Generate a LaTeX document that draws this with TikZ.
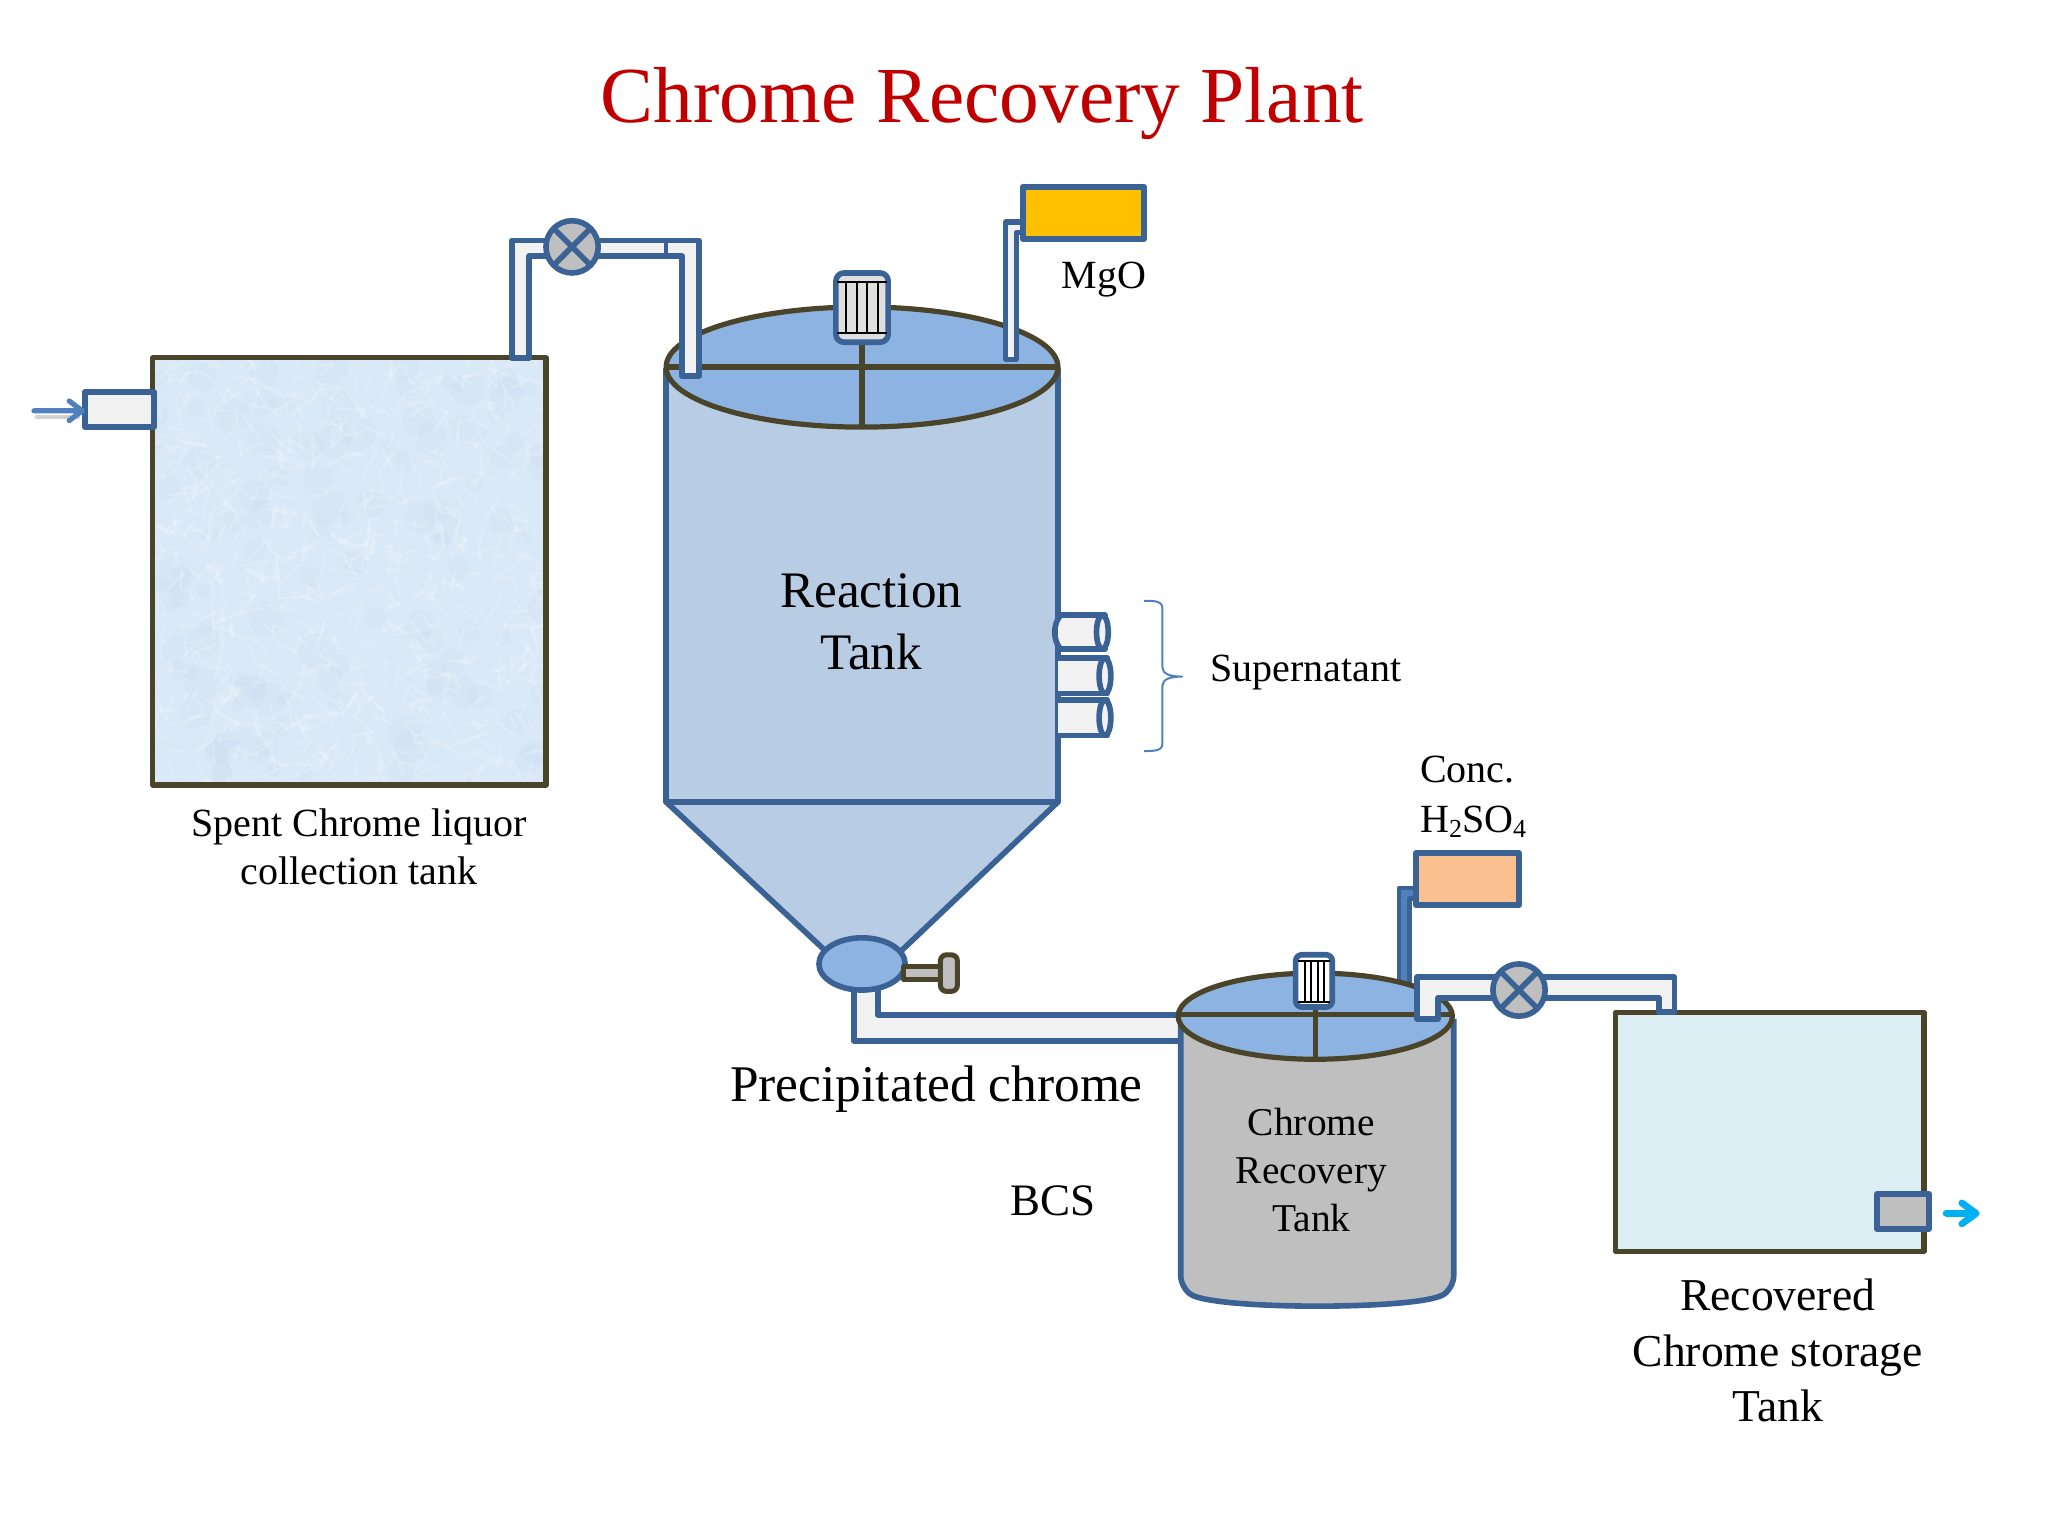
\documentclass[tikz,border=0pt]{standalone}
\usepackage{fontspec}
\setmainfont{Liberation Serif}
\definecolor{bl}{HTML}{3A6294}
\definecolor{ol}{HTML}{4A452A}
\definecolor{lid}{HTML}{8DB3E2}
\definecolor{tankbody}{HTML}{B8CCE4}
\definecolor{pipef}{HTML}{F2F2F2}
\definecolor{gr}{HTML}{BFBFBF}
\definecolor{titlered}{HTML}{C00000}
\definecolor{texbase}{HTML}{DAE9F7}
\definecolor{texdark}{HTML}{C4D8EC}
\definecolor{arrowa}{HTML}{4F81BD}
\definecolor{arrowb}{HTML}{00B0F0}
\definecolor{acid}{HTML}{FAC090}
\definecolor{store}{HTML}{DBEEF4}
\definecolor{gold}{HTML}{FFC000}
\newcommand{\fsb}[2]{\fontsize{#1}{#2}\selectfont}
\tikzset{
 x=0.65306pt,y=-0.65306pt,
 blue line/.style={draw=bl,line width=2.8pt,line join=round},
 olive line/.style={draw=ol,line width=2.6pt,line join=round},
 pipe/.style={blue line,fill=pipef},
 lbl/.style={align=center,inner sep=0pt,text=black},
 valve/.style={blue line,fill=gr},
 motor bar/.style={draw=black,line width=1pt},
 flow/.style={line width=2.6pt,line cap=round,line join=round},
}
\begin{document}
\begin{tikzpicture}
\useasboundingbox (0,0) rectangle (1568,1176);
% title
\node[lbl,text=titlered,font=\fsb{39.7}{48}] (title) at (752,79) {Chrome Recovery Plant};
% collection tank
\fill[texbase] (117,274) rectangle (418,601);
\begin{scope}
\clip (117,274) rectangle (418,601);
\pgfmathsetseed{7}
\foreach \i in {1,...,110}{
 \pgfmathsetmacro{\xa}{117+301*rnd}
 \pgfmathsetmacro{\ya}{274+327*rnd}
 \pgfmathsetmacro{\rr}{5+9*rnd}
 \fill[texdark,opacity=.16] (\xa,\ya) circle (\rr);
}
\foreach \i in {1,...,800}{
 \pgfmathsetmacro{\xa}{117+301*rnd}
 \pgfmathsetmacro{\ya}{274+327*rnd}
 \pgfmathsetmacro{\ang}{360*rnd}
 \pgfmathsetmacro{\len}{8+14*rnd}
 \draw[white,opacity=.16,line width=1.5pt] (\xa,\ya) -- ++(\ang:\len);
}
\end{scope}
\draw[olive line] (117,274) rectangle (418,601);
% inlet
\draw[pipe] (65,300) rectangle (118,327);
\draw[gray!35,line width=2pt,line cap=round] (28,319) -- (60,319);
\draw[flow,arrowa] (26,314.5) -- (62,314.5) (53,307) -- (63,314.5) -- (53,322);
% reaction tank body and cone
\path[fill=tankbody,blue line] (510,282) -- (510,614) -- (810,614) -- (810,282);
\path[fill=tankbody,blue line] (510,614) -- (632,728) -- (690,728) -- (810,614) -- cycle;
% lid
\path[fill=lid,olive line] (660,281) ellipse [x radius=150,y radius=46];
\draw[olive line] (510,281) -- (810,281) (660,262) -- (660,327);
% upper pipe
\draw[pipe] (392,274) -- (392,184) -- (535,184) -- (535,288) -- (522,288) -- (522,196) -- (405,196) -- (405,274) -- cycle;
\draw[bl,line width=1.8pt] (510,184) -- (510,196);
\path[valve] (438,189) ellipse [x radius=20,y radius=20];
\draw[blue line] (424,175) -- (452,203) (424,203) -- (452,175);
% motor reaction
\draw[blue line,fill=gr!50,rounded corners=4pt] (640,209) rectangle (680,262);
\draw[motor bar] (641,216) -- (679,216) (641,255) -- (679,255)
 (648,216) -- (648,255) (656,216) -- (656,255) (664,216) -- (664,255) (672,216) -- (672,255);
% MgO feed
\draw[blue line,line width=2.6pt,fill=pipef] (770,275) -- (770,170) -- (785,170) -- (785,178) -- (778,178) -- (778,275) -- cycle;
\draw[blue line,fill=gold] (783,143) rectangle (876,183);
\node[lbl,font=\fsb{20}{24}] (mgo) at (845,214) {MgO};
\node[lbl,font=\fsb{25.6}{30.7}] (reaction) at (667,476) {Reaction\\Tank};
% outlets
\foreach \ya/\yb/\xr in {471/497/846,504/531/848,536/563/848}{
 \path[pipe] (810,\ya) -- (\xr,\ya) -- (\xr,\yb) -- (810,\yb);
 \path[pipe] (\xr-2,{(\ya+\yb)/2}) ellipse [x radius=4.5,y radius={(\yb-\ya)/2}];
}
\path[blue line] (812,471) .. controls (806,478) and (806,490) .. (812,497);
% brace
\draw[arrowa,line width=1pt,line join=round] (876,460) .. controls (884,460) and (890,460) .. (890,466) -- (890,511) .. controls (890,516) and (896,518) .. (905,518) .. controls (896,518) and (890,520) .. (890,525) -- (890,569) .. controls (890,575) and (884,575) .. (876,575);
\node[lbl,font=\fsb{20}{24}] (super) at (1000,515) {Supernatant};
% spent labels
\node[lbl,font=\fsb{20}{24}] (spent) at (275,648) {Spent Chrome liquor\\collection tank};
% bottom pipe
\draw[pipe] (654,750) -- (654,797) -- (906,797) -- (906,777) -- (672,777) -- (672,750) -- cycle;
% discharge
\path[fill=lid,blue line] (660,738) ellipse [x radius=33,y radius=20];
\draw[olive line,fill=gr,line width=2.5pt] (692,740) rectangle (721,750);
\draw[olive line,fill=gr,line width=2.5pt,rounded corners=3pt] (720,731) rectangle (733,759);
\node[lbl,font=\fsb{25.7}{30}] (precip) at (717,834) {Precipitated chrome};
\node[lbl,font=\fsb{22.5}{26}] (bcs) at (806,919) {BCS};
% recovery tank
\path[fill=gr,blue line,rounded corners=6pt] (904,780) -- (904,986) .. controls (930,1003) and (1087,1003) .. (1113,986) -- (1113,780);
% acid feed
\draw[blue line,line width=2.2pt,fill=arrowa] (1071,755) -- (1071,680) -- (1086,680) -- (1086,688) -- (1079,688) -- (1079,755);
\path[fill=lid,olive line] (1007,778) ellipse [x radius=105,y radius=33];
\draw[olive line] (902,777) -- (1112,777) (1007,771) -- (1007,810);
% motor recovery
\draw[blue line,fill=white,rounded corners=3pt] (992,731) rectangle (1020,771);
\draw[motor bar] (994,736) -- (1018,736) (994,767) -- (1018,767)
 (999,736) -- (999,767) (1004,736) -- (1004,767) (1009,736) -- (1009,767) (1014,736) -- (1014,767);
% storage tank
\draw[olive line,fill=store] (1237,775) rectangle (1473,958);
% outlet pipe
\draw[blue line,fill=pipef] (1085,748) -- (1282,748) -- (1282,775) -- (1270,775) -- (1270,764) -- (1101,764) -- (1101,780) -- (1085,780) -- cycle;
\draw[blue line,fill=acid] (1084,653) rectangle (1163,693);
\path[valve] (1163,758) ellipse [x radius=20,y radius=20];
\draw[blue line] (1149,744) -- (1177,772) (1149,772) -- (1177,744);
\node[lbl,align=left,anchor=west,font=\fsb{20}{24.8}] (conc) at (1087,610) {Conc.\\H\raisebox{-2.5pt}{\fontsize{13}{13}\selectfont 2}SO\raisebox{-2.5pt}{\fontsize{13}{13}\selectfont 4}};
\node[lbl,font=\fsb{19.7}{24}] (chrome) at (1004,896) {Chrome\\Recovery\\Tank};
\draw[blue line,fill=gr] (1437,914) rectangle (1477,941);
\draw[flow,arrowb,line width=3.4pt] (1490,929) -- (1510,929) (1502,921) -- (1513,929) -- (1502,937);
\node[lbl,font=\fsb{22.8}{27.6}] (stored) at (1361,1034) {Recovered\\Chrome storage\\Tank};
\end{tikzpicture}
\end{document}
